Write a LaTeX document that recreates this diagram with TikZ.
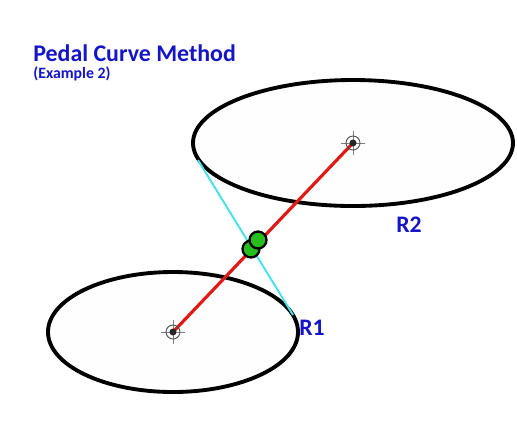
\documentclass[tikz,border=0pt]{standalone}
\usepackage{fontspec}
\setmainfont{Carlito}
\usetikzlibrary{calc}
\definecolor{azul}{RGB}{20,20,200}
\definecolor{rojo}{RGB}{225,25,20}
\definecolor{cian}{RGB}{70,225,235}
\definecolor{verde}{RGB}{40,190,30}

\begin{document}
\begin{tikzpicture}[x=0.02cm,y=-0.02cm]
\useasboundingbox (0,0) rectangle (517,424);
% Título
\node[anchor=west, inner sep=0, text=azul, font=\bfseries\fontsize{13.6}{16}\selectfont] (titulo) at (33,53) {Pedal Curve Method};
\node[anchor=west, inner sep=0, text=azul, font=\bfseries\fontsize{9}{11}\selectfont] (ejemplo) at (33,74) {(Example 2)};
% Elipse R2
\coordinate (C2) at (353,143);
\draw[line width=2.2pt, fill=gray!1] (C2) ellipse [x radius=160, y radius=63];
% Elipse R1
\coordinate (C1) at (173,332);
\draw[line width=2.2pt, fill=gray!1] (C1) ellipse [x radius=125, y radius=60];
% Tangente común
\coordinate (T2) at (198,160);
\coordinate (T1) at (293,315);
\draw[cian, line width=1.1pt] (T2) -- (T1);
% Segmento entre centros
\draw[rojo, line width=1.8pt] (C1) -- (C2);
% Centros
\foreach \c in {C1,C2} {
  \draw[gray, line width=0.5pt] ($(\c)+(-12,0)$) -- ($(\c)+(12,0)$);
  \draw[gray, line width=0.5pt] ($(\c)+(0,-12)$) -- ($(\c)+(0,12)$);
  \draw[black!70, line width=0.5pt] (\c) circle (7);
  \fill[black!85] (\c) circle (3.5);
}
% Puntos de contacto
\node[circle, draw, line width=1.3pt, fill=verde, minimum size=0.34cm, inner sep=0] (P1) at (251,249) {};
\node[circle, draw, line width=1.3pt, fill=verde, minimum size=0.34cm, inner sep=0] (P2) at (258,240) {};
% Etiquetas
\node[text=azul, font=\bfseries\fontsize{13.5}{16}\selectfont] (R2) at (409,225) {R2};
\node[text=azul, font=\bfseries\fontsize{13.5}{16}\selectfont] (R1) at (312,328) {R1};
\end{tikzpicture}
\end{document}
